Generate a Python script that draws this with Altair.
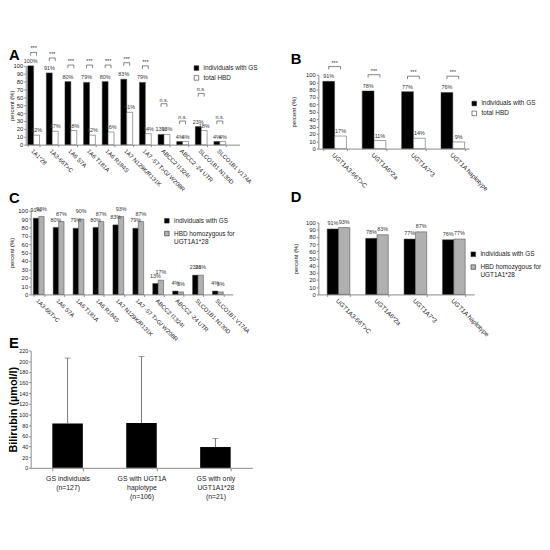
import altair as alt
import pandas as pd

FONT = "Liberation Sans"
AXC = "#888888"
TXT = "#222222"

# ---------------- data ----------------
a_cats = ["1A1*28", "1A3-66T>C", "1A6 S7A", "1A6 T181A", "1A6 R184S", "1A7 N129K/R131K",
          "1A7 -57 T>G/ W208R", "ABCC2 I1324I", "ABCC2 -24 UTR", "SLCO1B1 N130D", "SLCO1B1 V174A"]
a_gs = [100, 91, 80, 79, 80, 83, 79, 13, 4, 23, 4]
a_hbd = [12, 17, 18, 12, 16, 41, 14, 13, 4, 18, 4]
a_sig = ["***", "***", "***", "***", "***", "***", "***", "n.s.", "n.s.", "n.s.", "n.s."]
a_bracket = [117, 110, 101, 101, 101, 104, 100, 52, 30, 65, 30]
ab_series = ["individuals with GS", "total HBD"]

b_cats = ["UGT1A3-66T>C", "UGT1A6*2a", "UGT1A7*3", "UGT1A haplotype"]
b_gs = [91, 78, 77, 76]
b_hbd = [17, 11, 14, 9]
b_sig = ["***", "***", "***", "***"]
b_bracket = [111, 100, 98, 98]

c_cats = ["1A3-66T>C", "1A6 S7A", "1A6 T181A", "1A6 R184S", "1A7 N129K/R131K",
          "1A7 -57 T>G/ W208R", "ABCC2 I1324I", "ABCC2 -24 UTR", "SLCO1B1 N130D", "SLCO1B1 V174A"]
c_gs = [91, 80, 79, 80, 83, 79, 13, 4, 23, 4]
c_hom = [93, 87, 90, 87, 93, 87, 17, 3, 23, 3]
cd_series = ["individuals with GS", "HBD homozygous for|UGT1A1*28"]

d_cats = ["UGT1A3-66T>C", "UGT1A6*2a", "UGT1A7*3", "UGT1A haplotype"]
d_gs = [91, 78, 77, 76]
d_hom = [93, 83, 87, 77]

e_cats = ["GS individuals|(n=127)", "GS with UGT1A|haplotype|(n=106)", "GS with only|UGT1A1*28|(n=21)"]
e_mean = [83, 84, 39]
e_upper = [206, 209, 55]


def grouped(cats, v1, v2, series, colors, letter, width, height, pin, pout, align,
            legend_xy, title_x, letter_xy, xrange=None, yrange=None, yoffset=0,
            label_dy=-3, xfs=6, sig=None, bracket=None, row_pad=2):
    n = len(cats)
    df = pd.DataFrame({"cat": cats * 2,
                       "series": [series[0]] * n + [series[1]] * n,
                       "value": list(v1) + list(v2)})
    df["label"] = df["value"].astype(str) + "%"

    xs = dict(domain=cats, paddingInner=pin, paddingOuter=pout, align=align)
    if xrange:
        xs["range"] = xrange
    ys = dict(domain=[0, 100], nice=False)
    if yrange:
        ys["range"] = yrange
    xaxis = alt.Axis(title=None, labelAngle=45, labelAlign="left", labelBaseline="top",
                     labelFontSize=xfs, labelColor=TXT, labelPadding=1, tickSize=2,
                     tickBand="extent", domainColor=AXC, tickColor=AXC, labelLimit=200,
                     labelOverlap=False)
    yaxis = alt.Axis(title="percent (%)", values=list(range(0, 101, 10)), labelFontSize=6,
                     labelColor=TXT, tickSize=2, labelPadding=1, domainColor=AXC,
                     tickColor=AXC, grid=False, titleFontSize=6, titleFontWeight="normal",
                     titleColor=TXT, titleX=title_x, titleBaseline="bottom", offset=yoffset,
                     labelOverlap=False)

    def X():
        return alt.X("cat:N", scale=alt.Scale(**xs), sort=cats, axis=xaxis)

    def Y():
        return alt.Y("value:Q", scale=alt.Scale(**ys), axis=yaxis)

    XO = alt.XOffset("series:N", sort=series,
                     scale=alt.Scale(domain=series, paddingInner=0, paddingOuter=0))

    legend = alt.Legend(orient="none", legendX=legend_xy[0], legendY=legend_xy[1], title=None,
                        labelFontSize=6.5, labelColor=TXT, symbolType="square", symbolSize=22,
                        symbolStrokeColor="#333333", symbolStrokeWidth=0.6, rowPadding=row_pad,
                        labelOffset=4, padding=0, labelLimit=200,
                        labelExpr="split(datum.label, '|')")

    bars = alt.Chart(df).mark_bar(stroke="#444444", strokeWidth=0.5).encode(
        x=X(), xOffset=XO, y=Y(),
        color=alt.Color("series:N", scale=alt.Scale(domain=series, range=colors), legend=legend))
    labels = alt.Chart(df).mark_text(dy=label_dy, fontSize=5.5, color="#333333",
                                     baseline="bottom").encode(
        x=X(), xOffset=XO, y=Y(), text="label:N")
    layers = [bars, labels]

    if bracket is not None:
        rows = []
        for c, b in zip(cats, bracket):
            rows += [{"cat": c, "series": series[0], "value": b - 4, "idx": 0},
                     {"cat": c, "series": series[0], "value": b, "idx": 1},
                     {"cat": c, "series": series[1], "value": b, "idx": 2},
                     {"cat": c, "series": series[1], "value": b - 4, "idx": 3}]
        bdf = pd.DataFrame(rows)
        br = alt.Chart(bdf).mark_line(color="#333333", strokeWidth=0.6).encode(
            x=X(), xOffset=XO, y=Y(), detail="cat:N", order="idx:Q")
        sdf = pd.DataFrame({"cat": cats, "value": bracket, "sig": sig})
        st = alt.Chart(sdf).mark_text(dy=-1, fontSize=5.5, color="#333333",
                                      baseline="bottom").encode(x=X(), y=Y(), text="sig:N")
        layers += [br, st]

    let = alt.Chart(pd.DataFrame({"t": [letter]})).mark_text(
        fontSize=15, fontWeight="bold", align="left", baseline="alphabetic", color="black").encode(
        x=alt.value(letter_xy[0]), y=alt.value(letter_xy[1]), text="t:N")
    layers.append(let)
    return alt.layer(*layers).properties(width=width, height=height)


# row 1 top at 64; row 2 top at 205 (plots drawn from 211); row 3 top at 353
pA = grouped(a_cats, a_gs, a_hbd, ab_series, ["black", "white"], "A", 217, 80,
             0.365, 0.423, 0.125, (170, -1), -11, (-17, -6),
             sig=a_sig, bracket=a_bracket, label_dy=-2)
pB = grouped(b_cats, b_gs, b_hbd, ab_series, ["black", "white"], "B", 153, 84,
             0.4, 0.1125, 0.5, (155, 35), -22, (-28, -2), yrange=[84, 9],
             sig=b_sig, bracket=b_bracket, label_dy=-2, xfs=6.5)
pC = grouped(c_cats, c_gs, c_hom, cd_series, ["black", "#b0b0b0"], "C", 210, 91,
             0.455, 0.30, 0.22, (140, 13), -16, (-17, -2), xrange=[5, 210], yrange=[91, 6],
             yoffset=-5, label_dy=-5, row_pad=5)
pD = grouped(d_cats, d_gs, d_hom, cd_series, ["black", "#b0b0b0"], "D", 158, 91,
             0.41, 0.23, 0.5, (154, 47), -20, (-28, -3), yrange=[91, 18],
             label_dy=-3, xfs=6.5, row_pad=5)

# ---------------- panel E ----------------
e_df = pd.DataFrame({"cat": e_cats, "mean": e_mean, "upper": e_upper})
ex_axis = alt.Axis(title=None, labelAngle=0, labelExpr="split(datum.label, '|')", labelFontSize=7,
                   labelLineHeight=9, labelPadding=4, tickBand="extent", tickSize=3,
                   domainColor=AXC, tickColor=AXC, labelColor=TXT, labelBaseline="top")
ey_axis = alt.Axis(title="Bilirubin (µmol/l)", values=list(range(0, 221, 20)), titleFontSize=11,
                   titleFontWeight="bold", titleColor="black", titleX=-12, titleBaseline="bottom",
                   labelFontSize=5.5, labelColor=TXT, offset=-5, tickSize=2, labelPadding=1,
                   domainColor=AXC, tickColor=AXC, grid=False)


def EX():
    return alt.X("cat:N", sort=e_cats, axis=ex_axis,
                 scale=alt.Scale(domain=e_cats, range=[5, 230], paddingInner=0.587,
                                 paddingOuter=0.293))


ey_scale = alt.Scale(domain=[0, 220], nice=False)
e_bars = alt.Chart(e_df).mark_bar(color="black").encode(
    x=EX(), y=alt.Y("mean:Q", scale=ey_scale, axis=ey_axis))
e_err = alt.Chart(e_df).mark_rule(color="#555555", strokeWidth=0.8).encode(
    x=EX(), y=alt.Y("mean:Q", scale=ey_scale, axis=ey_axis), y2="upper:Q")
e_cap = alt.Chart(e_df).mark_tick(color="#555555", thickness=0.8, size=6).encode(
    x=EX(), y=alt.Y("upper:Q", scale=ey_scale, axis=ey_axis))
e_let = alt.Chart(pd.DataFrame({"t": ["E"]})).mark_text(
    fontSize=15, fontWeight="bold", align="left", baseline="alphabetic", color="black").encode(
    x=alt.value(-17), y=alt.value(-3), text="t:N")
pE = alt.layer(e_bars, e_err, e_cap, e_let).properties(width=230, height=119)

RES = dict(color="independent", xOffset="independent", x="independent", y="independent")

chart = alt.concat(pA, pB, pC, pD, pE, columns=2, bounds="flush",
                   spacing={"row": 57, "column": 67}).resolve_scale(**RES).properties(
    padding={"top": 35, "left": 0, "right": 0, "bottom": 0}
).configure(font=FONT).configure_view(stroke=None)

chart.save("out.html", embed_options={"renderer": "svg", "actions": False})
